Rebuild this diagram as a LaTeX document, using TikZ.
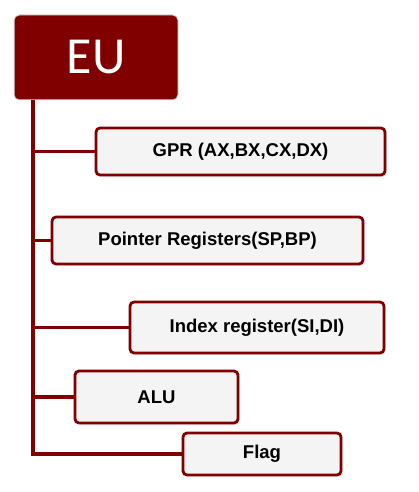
\documentclass[tikz,border=0pt]{standalone}
\usepackage{fontspec}
\setmainfont{Liberation Sans}
\newfontfamily\eufont{Carlito}
\usetikzlibrary{shadows}
\definecolor{eured}{HTML}{800000}
\definecolor{boxgray}{HTML}{F4F4F4}
\tikzset{
	eubox/.style={fill=eured, draw=gray!25, line width=1pt, rounded corners=5pt, minimum width=164pt, minimum height=85pt, text=white, font=\eufont\fontsize{52}{56}\selectfont},
	regbox/.style={draw=eured, line width=2.8pt, fill=boxgray, rounded corners=4pt, drop shadow={shadow xshift=2pt, shadow yshift=-2pt, fill=gray!25}, font=\fontsize{18.5}{21}\selectfont\bfseries},
	trunk/.style={draw=eured, line width=3.5pt}
}

\begin{document}
\begin{tikzpicture}[x=1pt, y=-1pt]
		\useasboundingbox (0,0) rectangle (419,492);

		\node[eubox] (eu) at (96,57.5) {EU};

		\node[regbox, minimum width=289pt, minimum height=47pt] (gpr) at (240.5,151.5) {GPR (AX,BX,CX,DX)};
		\node[regbox, minimum width=311pt, minimum height=47pt] (ptr) at (207.5,240.5) {Pointer Registers(SP,BP)};
		\node[regbox, minimum width=254pt, minimum height=51pt] (idx) at (257,327.5) {Index register(SI,DI)};
		\node[regbox, minimum width=163pt, minimum height=52pt] (alu) at (156.5,397) {ALU};
		\node[regbox, minimum width=158pt, minimum height=42pt] (flag) at (262,454) {Flag};

		% trunk below the EU box
		\coordinate (top) at (33,100);
		\coordinate (bot) at (33,454);
		\draw[trunk] (eu.south -| top) -- (bot);

		% branches
		\draw[trunk] (gpr.west -| top) -- (gpr.west);
		\draw[trunk] (ptr.west -| top) -- (ptr.west);
		\draw[trunk] (idx.west -| top) -- (idx.west);
		\draw[trunk] (alu.west -| top) -- (alu.west);
		\draw[trunk, line cap=rect] (bot) -- (flag.west);
	\end{tikzpicture}
\end{document}
